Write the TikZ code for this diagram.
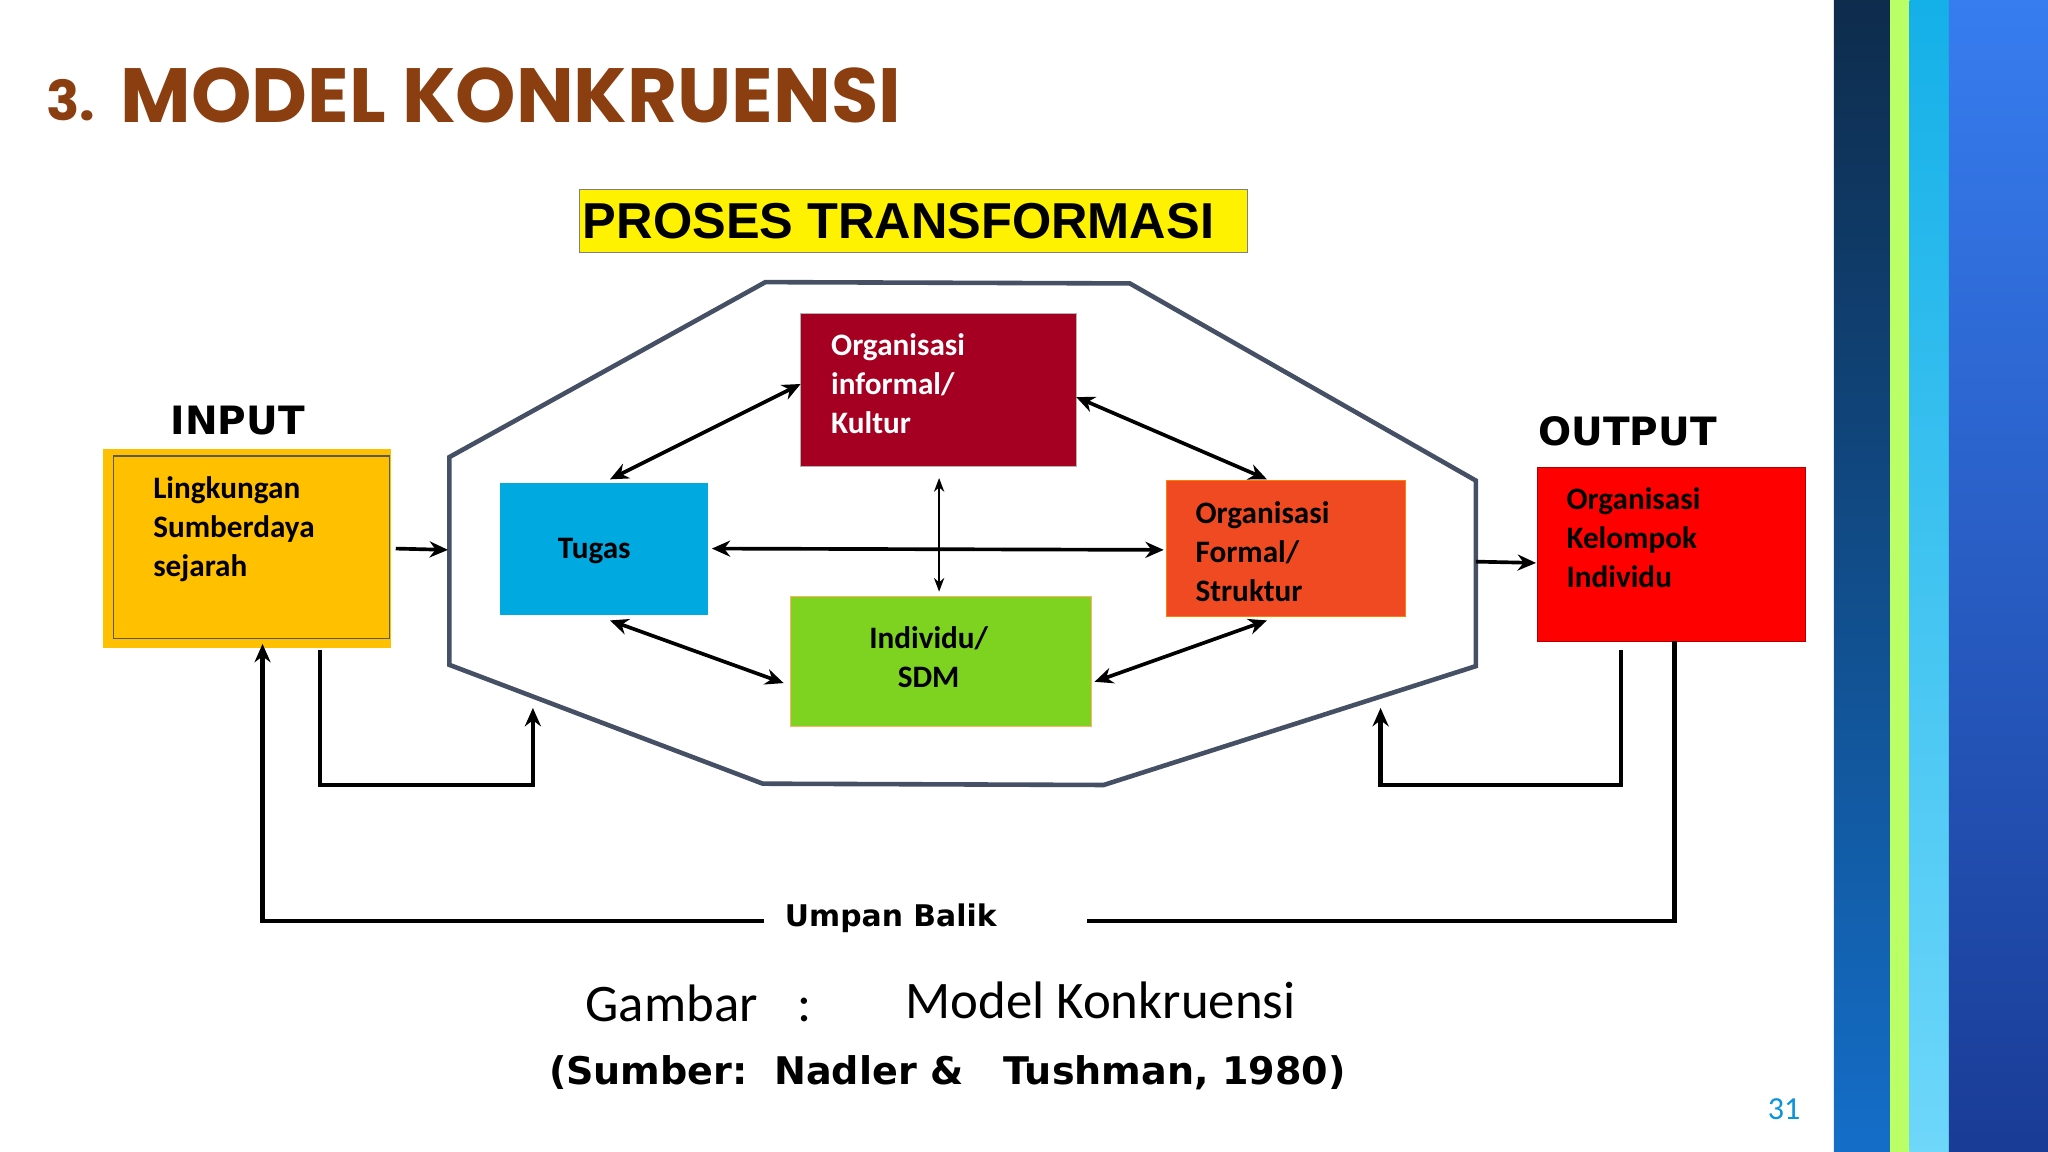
\documentclass[tikz,border=0pt]{standalone}
\usepackage{fontspec}
\setmainfont{Carlito}
\newfontfamily\titlefont{Poppins}
\newfontfamily\arialf{Liberation Sans}
\newfontfamily\verd{DejaVu Sans}
\usetikzlibrary{arrows.meta}
\definecolor{brownt}{HTML}{8B3E0F}
\begin{document}
\begin{tikzpicture}[x=0.02cm,y=-0.02cm,
  ln/.style={line width=1.6pt,black},
  dbl/.style={ln,{Stealth[length=8pt,width=7pt]}-{Stealth[length=8pt,width=7pt]}},
  sgl/.style={ln,-{Stealth[length=8pt,width=7pt]}},
  txt/.style={font=\bfseries\fontsize{13.6}{17}\selectfont,align=left,inner sep=0pt},
  lbl/.style={font=\verd\bfseries\fontsize{17}{20}\selectfont,inner sep=0pt}]
\useasboundingbox (0,0) rectangle (1568,882);
\fill[white] (0,0) rectangle (1568,882);
% side bars
\shade[top color={rgb,255:red,14;green,44;blue,76},bottom color={rgb,255:red,20;green,110;blue,200}] (1404,0) rectangle (1447,882);
\fill[green!45!yellow!60] (1447,0) rectangle (1462,882);
\shade[top color={rgb,255:red,20;green,176;blue,232},bottom color={rgb,255:red,110;green,215;blue,250}] (1462,0) rectangle (1492,882);
\shade[top color={rgb,255:red,55;green,125;blue,240},bottom color={rgb,255:red,25;green,60;blue,150}] (1492,0) rectangle (1568,882);
\node[text=cyan!80!blue,font=\fontsize{14}{16}\selectfont] (pg) at (1366,849) {31};
% title
\node[anchor=base west,text=brownt,font=\titlefont\bfseries\fontsize{24}{28}\selectfont,inner sep=0pt] (t3) at (35,92) {3.};
\node[anchor=base west,text=brownt,font=\titlefont\bfseries\fontsize{33.5}{40}\selectfont,inner sep=0pt] (tt) at (92,94) {MODEL KONKRUENSI};
% proses
\node[draw=gray,fill=yellow,minimum width=511*0.02cm,minimum height=48*0.02cm,inner sep=0pt] (pt) at (699.5,169) {};
\node[font=\arialf\bfseries\fontsize{22}{24}\selectfont,anchor=west,inner sep=0pt] (ptt) at (446,169) {PROSES TRANSFORMASI};
% octagon
\draw[line width=2pt,draw={rgb,255:red,70;green,80;blue,100}] (586,216)--(865,217)--(1130,368)--(1130,510)--(845,601)--(584,600)--(344,509)--(344,350)--cycle;
% boxes
\fill[fill={rgb,255:red,165;green,0;blue,33}] (613,240) rectangle (824,357);
\draw[gray!60] (613,240) rectangle (824,357);
\node[txt,text=white,anchor=west] (oi) at (636,294) {Organisasi\\informal/\\Kultur};
\fill[fill={rgb,255:red,0;green,169;blue,224}] (383,370) rectangle (542,471);
\node[txt] (tg) at (455,422) {Tugas};
\draw[fill={rgb,255:red,240;green,74;blue,35},draw=orange] (893,368) rectangle (1076,472);
\node[txt,anchor=west] (of) at (915,422) {Organisasi\\Formal/\\Struktur};
\draw[fill={rgb,255:red,126;green,211;blue,33},draw=orange!60] (605,457) rectangle (836,556);
\node[txt,align=center] (is) at (711,503) {Individu/\\SDM};
\draw[fill={rgb,255:red,255;green,192;blue,0},draw={rgb,255:red,255;green,192;blue,0},line width=1.5pt] (80,345) rectangle (298,495);
\draw[gray!70!black,line width=0.6pt] (87,349) rectangle (298,489);
\node[txt,anchor=west] (in) at (117,405) {Lingkungan\\Sumberdaya\\sejarah};
\node[lbl] (inl) at (182,322) {INPUT};
\fill[red] (1177,358) rectangle (1382,491);
\draw[red!70!black,line width=0.5pt] (1177,358) rectangle (1382,491);
\node[txt,anchor=west] (ou) at (1199,412) {Organisasi\\Kelompok\\Individu};
\node[lbl] (oul) at (1246,330) {OUTPUT};
% arrows
\draw[sgl] (303,420)--(343,421);
\draw[sgl] (1130,430)--(1176,431);
\draw[dbl] (467,367)--(613,294);
\draw[dbl] (824,304)--(970,367);
\draw[dbl] (545,420)--(891,421);
\draw[line width=0.8pt,{Stealth[length=6pt]}-{Stealth[length=6pt]}] (719,366)--(719,453);
\draw[dbl] (467,475)--(600,523);
\draw[dbl] (838,522)--(970,475);
% feedback
\draw[sgl,line width=2pt] (245,498)--(245,601)--(408,601)--(408,542);
\draw[sgl,line width=2pt] (1241,498)--(1241,601)--(1057,601)--(1057,542);
\draw[line width=2pt] (1282,491)--(1282,705)--(832,705);
\draw[sgl,line width=2pt] (585,705)--(201,705)--(201,493);
\node[font=\verd\bfseries\fontsize{13}{16}\selectfont,inner sep=0pt] (ub) at (682,703) {Umpan Balik};
% caption
\node[anchor=base west,font=\fontsize{23}{26}\selectfont,inner sep=0pt] (g1) at (448,782) {Gambar};
\node[anchor=base west,font=\fontsize{23}{26}\selectfont,inner sep=0pt] (g2) at (610,782) {:};
\node[anchor=base west,font=\fontsize{23}{26}\selectfont,inner sep=0pt] (g3) at (693,780) {Model Konkruensi};
\node[anchor=base west,font=\verd\bfseries\fontsize{16.6}{20}\selectfont,inner sep=0pt] (src) at (420,830) {(Sumber:\ \ Nadler \&\ \ \ Tushman, 1980)};
\end{tikzpicture}
\end{document}
